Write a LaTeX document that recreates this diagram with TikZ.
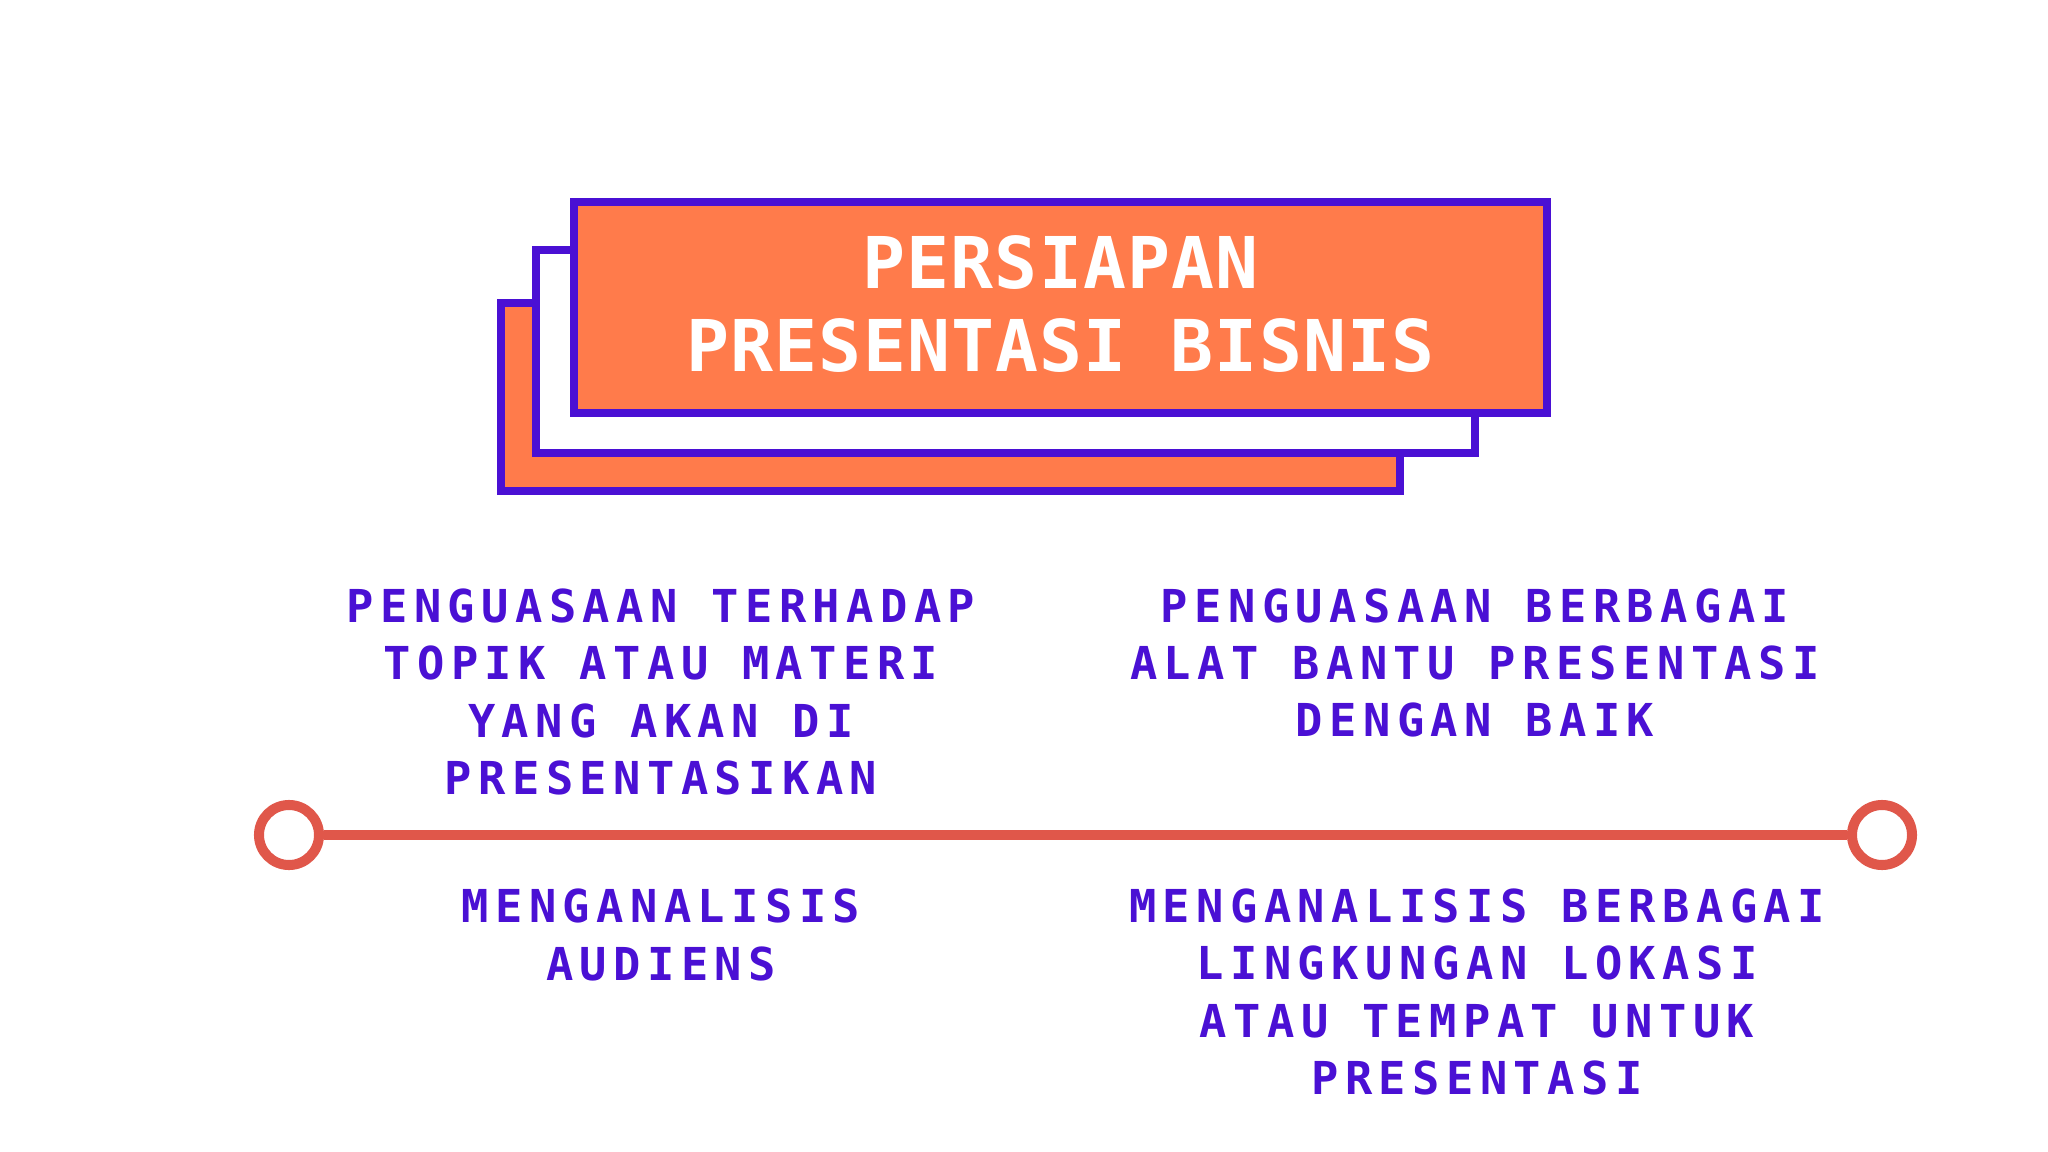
\documentclass[tikz,border=0pt]{standalone}
\usepackage{fontspec}
\usetikzlibrary{calc}
\newfontfamily\titlefont[LetterSpace=1.6]{DejaVu Sans Mono}
\newfontfamily\itemfont[LetterSpace=14.2]{DejaVu Sans Mono}
\definecolor{boxorange}{HTML}{FF7B4B}
\definecolor{boxviolet}{HTML}{4A10D4}
\definecolor{linered}{HTML}{E0574A}
\newcommand{\borderwidth}{2.3pt}
\newcommand{\ringwidth}{2.85pt}
\newcommand{\ringsize}{0.6cm}
\newcommand{\stackbox}[3]{%
    \draw[boxviolet, line width=\borderwidth, fill=#3] (#1) rectangle (#2);
}
\tikzset{
    titletext/.style={align=center, text=white, inner sep=0pt,
        font=\titlefont\bfseries\fontsize{20.3}{23.6}\selectfont},
    itemtext/.style={align=center, text=boxviolet, inner sep=0pt,
        font=\itemfont\bfseries\fontsize{12.9}{16.3}\selectfont},
    ring/.style={circle, draw=linered, fill=white, line width=\ringwidth,
        minimum size=\ringsize, inner sep=0pt},
}

\begin{document}
\begin{tikzpicture}[x=0.01cm, y=-0.01cm]

% canvas is 2048 x 1152, y grows downwards
\useasboundingbox (0,0) rectangle (2048,1152);

% stacked title boxes, back to front
\coordinate (back1) at (501,303);
\coordinate (back2) at (1400,491);
\coordinate (mid1) at (536,250);
\coordinate (mid2) at (1475,453);
\coordinate (front1) at (574,202);
\coordinate (front2) at (1547,413);

\stackbox{back1}{back2}{boxorange}
\stackbox{mid1}{mid2}{white}
\stackbox{front1}{front2}{boxorange}

\node[titletext] (title) at ($(front1)!0.5!(front2) + (0,-3)$) {PERSIAPAN\\PRESENTASI BISNIS};

% timeline
\node[ring] (start) at (289,835) {};
\node[ring] (end) at (1882,835) {};
\draw[linered, line width=3pt] (start.east) -- (end.west);

% items above the line
\node[itemtext] (topic) at (661,692) {PENGUASAAN TERHADAP\\TOPIK ATAU MATERI\\YANG AKAN DI\\PRESENTASIKAN};
\node[itemtext] (tools) at (1475,663) {PENGUASAAN BERBAGAI\\ALAT BANTU PRESENTASI\\DENGAN BAIK};

% items below the line
\node[itemtext] (audience) at (661,935) {MENGANALISIS\\AUDIENS};
\node[itemtext] (venue) at (1477,992) {MENGANALISIS BERBAGAI\\LINGKUNGAN LOKASI\\ATAU TEMPAT UNTUK\\PRESENTASI};

\end{tikzpicture}
\end{document}
